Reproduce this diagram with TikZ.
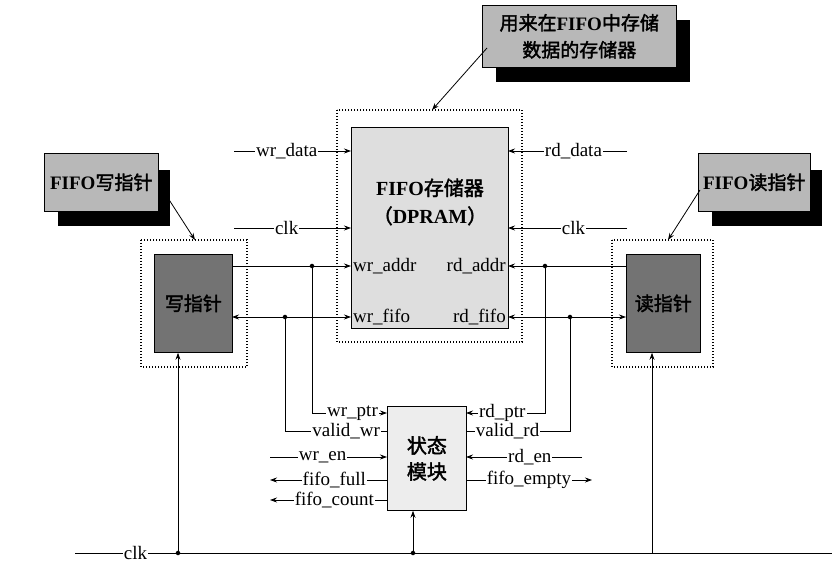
\documentclass[tikz,border=0pt]{standalone}
\usepackage{fontspec}
\setmainfont{Liberation Serif}
\newfontfamily\cjk{Noto Sans CJK SC}[AutoFakeBold=2]
\usetikzlibrary{arrows.meta}
\begin{document}
\begin{tikzpicture}[x=1pt,y=-1pt,
  every node/.style={font=\fontsize{19}{21}\selectfont},
  ln/.style={line width=0.8pt},
  ar/.style={ln,-{Stealth[length=7pt,width=5pt]}},
  dar/.style={ln,{Stealth[length=7pt,width=5pt]}-{Stealth[length=7pt,width=5pt]}},
  lab/.style={fill=white,inner sep=1pt},
  dotbox/.style={draw,line width=1.2pt,dash pattern=on 1pt off 2pt},
  call/.style={draw,fill=black!28,line width=0.6pt,font=\fontsize{19}{27}\selectfont\bfseries,align=center,inner sep=1pt},
  dot/.style={circle,fill,inner sep=1.6pt}]
\useasboundingbox (0,0) rectangle (839,575);
% callouts
\fill (496,20) rectangle (690,82);
\node[call,minimum width=194pt,minimum height=62pt,anchor=north west] (c1) at (482,5) {\cjk\bfseries 用来在\normalfont\bfseries FIFO\cjk\bfseries 中存储\\ \cjk\bfseries 数据的存储器};
\fill (58,170) rectangle (170,226);
\node[call,minimum width=114pt,minimum height=58pt,anchor=north west] (c2) at (44,153) {FIFO\cjk\bfseries 写指针};
\fill (712,170) rectangle (822,226);
\node[call,minimum width=112pt,minimum height=58pt,anchor=north west] (c3) at (698,153) {FIFO\cjk\bfseries 读指针};
% dotted boxes
\draw[dotbox] (337,110) rectangle (522,342);
\draw[dotbox] (141,240) rectangle (247,367);
\draw[dotbox] (612,240) rectangle (713,367);
\coordinate (t1) at (432,110); \coordinate (t2) at (195,240); \coordinate (t3) at (668,240);
\draw[ar] (487,48) -- (t1);
\draw[ar] (166,195) -- (t2);
\draw[ar] (700,190) -- (t3);
% main boxes
\node[draw,fill=black!13,line width=0.8pt,minimum width=157pt,minimum height=201pt,anchor=north west] (ram) at (351,127) {};
\node[font=\fontsize{20}{28}\selectfont\bfseries,align=center] (ramt) at (430,202) {FIFO\cjk\bfseries 存储器\\ \cjk（\normalfont\bfseries DPRAM\cjk）};
\node[draw,fill=black!55,line width=0.8pt,minimum width=78pt,minimum height=98pt,anchor=north west] (wp) at (154,254) {};
\node[font=\fontsize{19}{21}\selectfont] at (wp) {\cjk\bfseries 写指针};
\node[draw,fill=black!55,line width=0.8pt,minimum width=74pt,minimum height=98pt,anchor=north west] (rp) at (626,254) {};
\node[font=\fontsize{19}{21}\selectfont] at (rp) {\cjk\bfseries 读指针};
\node[draw,fill=black!7,line width=0.8pt,minimum width=79pt,minimum height=104pt,anchor=north west] (st) at (387,406) {};
\node[font=\fontsize{20}{26}\selectfont,align=center] at (st) {\cjk\bfseries 状态\\ \cjk\bfseries 模块};
% RAM inputs
\coordinate (a1) at (234,151); \coordinate (a2) at (351,151);
\draw[ar] (a1) -- node[lab,pos=0.45]{wr\_data} (a2);
\coordinate (a3) at (234,228); \coordinate (a4) at (351,228);
\draw[ar] (a3) -- node[lab,pos=0.45]{clk} (a4);
\coordinate (b1) at (627,151); \coordinate (b2) at (508,151);
\draw[ar] (b1) -- node[lab,pos=0.45]{rd\_data} (b2);
\coordinate (b3) at (627,228); \coordinate (b4) at (508,228);
\draw[ar] (b3) -- node[lab,pos=0.45]{clk} (b4);
% pointer connections
\coordinate (w1) at (232,266); \coordinate (w2) at (351,266);
\draw[ar] (w1) -- (w2);
\coordinate (w3) at (232,317); \coordinate (w4) at (351,317);
\draw[dar] (w3) -- (w4);
\coordinate (r1) at (626,266); \coordinate (r2) at (508,266);
\draw[ar] (r1) -- (r2);
\coordinate (r3) at (626,317); \coordinate (r4) at (508,317);
\draw[dar] (r4) -- (r3);
\node[anchor=west,inner sep=1pt] at (352,266) {wr\_addr};
\node[anchor=west,inner sep=1pt] at (352,317) {wr\_fifo};
\node[anchor=east,inner sep=1pt] at (507,266) {rd\_addr};
\node[anchor=east,inner sep=1pt] at (507,317) {rd\_fifo};
\node[dot] (d1) at (312,266) {}; \node[dot] (d2) at (285,317) {};
\node[dot] (d3) at (545,266) {}; \node[dot] (d4) at (570,317) {};
% to state
\coordinate (s1) at (387,413); \coordinate (s2) at (387,431);
\coordinate (s3) at (466,413); \coordinate (s4) at (466,431);
\draw[ar] (d1) |- node[lab,pos=0.77]{wr\_ptr} (s1);
\draw[ln] (d2) |- node[lab,pos=0.8]{valid\_wr} (s2);
\draw[ar] (d3) |- node[lab,pos=0.77]{rd\_ptr} (s3);
\draw[ln] (d4) |- node[lab,pos=0.8]{valid\_rd} (s4);
\coordinate (e1) at (270,457); \coordinate (e2) at (387,457);
\draw[ar] (e1) -- node[lab,pos=0.45]{wr\_en} (e2);
\coordinate (e3) at (582,457); \coordinate (e4) at (466,457);
\draw[ar] (e3) -- node[lab,pos=0.45]{rd\_en} (e4);
\coordinate (f1) at (387,480); \coordinate (f2) at (270,480);
\draw[ar] (f1) -- node[lab,pos=0.45]{fifo\_full} (f2);
\coordinate (f3) at (387,500); \coordinate (f4) at (270,500);
\draw[ar] (f3) -- node[lab,pos=0.45]{fifo\_count} (f4);
\coordinate (f5) at (466,480); \coordinate (f6) at (592,480);
\draw[ar] (f5) -- node[lab,pos=0.5]{fifo\_empty} (f6);
% clock
\coordinate (k0) at (75,553); \coordinate (k9) at (832,553);
\draw[ln] (k0) -- node[lab,pos=0.08]{clk} (k9);
\node[dot] (k1) at (178,553) {}; \node[dot] (k2) at (413,553) {};
\coordinate (k3) at (652,553);
\draw[ar] (k1) -- (k1 |- wp.south);
\draw[ar] (k2) -- (k2 |- st.south);
\draw[ar] (k3) -- (k3 |- rp.south);
\end{tikzpicture}
\end{document}
